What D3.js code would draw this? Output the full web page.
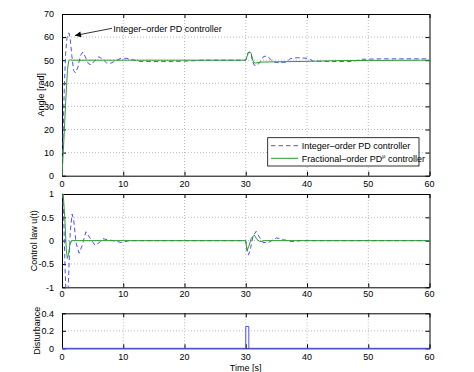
<!DOCTYPE html>
<html>
<head>
<meta charset="utf-8">
<script src="https://cdn.jsdelivr.net/npm/d3@7"></script>
<style>
  body { margin: 0; background: #fff; }
  svg text { font-family: "Liberation Sans", Arial, Helvetica, sans-serif; fill: #000; }
</style>
</head>
<body>
<svg id="chart" width="474" height="372"></svg>
<script>
// angle response, integer-order PD (blue dashed)
var angleIntT = [0, 0.2, 0.4, 0.6, 0.8, 1.0, 1.15, 1.35, 1.6, 1.9, 2.2, 2.6, 3.0, 3.4, 3.8, 4.3, 4.8, 5.4, 6.0, 6.6, 7.3, 8.0, 8.8, 9.6, 10.5, 11.5, 12.5, 15, 18, 21, 23, 30,
  30.2, 30.4, 30.7, 30.9, 31.1, 31.4, 31.9, 32.4, 32.9, 33.5, 34.0, 34.6, 35.5, 36.6, 37.3, 38.5, 40.2, 41, 44, 47.5, 49, 52, 56, 60];
var angleIntV = [0, 20, 40, 53, 59.5, 61.5, 61.8, 59, 52, 45.5, 44.5, 47, 52, 53.5, 51.5, 48.5, 48, 50, 51.5, 50.5, 48.8, 48.7, 49.8, 50.8, 50.8, 50.3, 49.5, 49.4, 49.4, 49.7, 50, 50,
  51.5, 53.3, 53.5, 52.5, 49.5, 47.8, 47.8, 49.5, 51.6, 51.8, 50.5, 49.2, 48.9, 49.2, 50.7, 51.1, 50.8, 49.6, 49.4, 49.5, 50.4, 50.6, 50.6, 50.6];

// angle response, fractional-order PD^mu (green)
var angleFracT = [0, 0.3, 0.6, 0.9, 1.1, 1.3, 1.6, 30, 30.2, 30.4, 30.7, 30.9, 31.1, 31.3, 31.6, 32.5, 35, 40, 45, 50, 60];
var angleFracV = [0, 15, 32, 46, 49.8, 50.2, 50, 50, 51.5, 53.3, 53.5, 52.8, 50.5, 49, 48.8, 49.2, 49.3, 49.5, 49.8, 49.9, 50];

// control law u(t)
var uIntT = [0, 0.15, 0.3, 0.5, 0.7, 0.9, 1.1, 1.35, 1.65, 1.9, 2.3, 2.8, 3.3, 3.9, 4.6, 5.4, 6.0, 6.7, 7.5, 8.3, 9.7, 11, 12.5,
  30, 30.15, 30.45, 30.8, 31.2, 31.7, 32.2, 32.8, 33.7, 35, 36.2, 37.5, 39, 60];
var uIntV = [1, 0.9, 0.4, -0.6, -1.3, -1.3, -0.7, 0.2, 0.57, 0.45, -0.05, -0.27, -0.1, 0.19, 0.05, -0.1, -0.05, 0.04, 0.02, 0, -0.04, 0, 0,
  0, -0.15, -0.31, -0.15, 0.1, 0.2, 0.08, -0.04, -0.04, 0.06, 0.02, -0.02, 0, 0];
var uFracT = [0, 0.2, 0.45, 0.7, 0.87, 1.05, 1.3, 1.6, 30, 30.1, 30.2, 30.5, 30.9, 31.4, 31.8, 32.3, 33, 60];
var uFracV = [1, 1, 0.5, -0.2, -0.38, -0.3, -0.08, 0, 0, -0.1, -0.22, -0.12, 0.05, 0.12, 0.03, -0.02, 0, 0];

// disturbance
var distT = [0, 30, 30, 30.5, 30.5, 60];
var distV = [0, 0, 0.25, 0.25, 0, 0];

var xTicks = [0, 10, 20, 30, 40, 50, 60];
var blue = '#5050f0', green = '#2f9a2f';

var svg = d3.select('#chart');
var x = d3.scaleLinear().domain([0, 60]).range([62, 429.5]);

function zip(t, v) { return t.map(function (d, i) { return [d, v[i]]; }); }

function drawPanel(id, yDomain, yRange, yTicks, yFmt, tickLabelY, label, labelX, series) {
  var y = d3.scaleLinear().domain(yDomain).range(yRange);
  var g = svg.append('g');

  svg.append('clipPath').attr('id', 'clip' + id)
    .append('rect').attr('x', x.range()[0]).attr('y', yRange[1] - 1)
    .attr('width', x.range()[1] - x.range()[0]).attr('height', yRange[0] - yRange[1] + 2);

  // grid
  g.selectAll('.gx').data(xTicks.slice(1, -1)).enter().append('line')
    .attr('x1', function (d) { return x(d); }).attr('x2', function (d) { return x(d); })
    .attr('y1', yRange[1]).attr('y2', yRange[0])
    .attr('stroke', '#aaa').attr('stroke-width', 0.8).attr('stroke-dasharray', '1,2');
  g.selectAll('.gy').data(yTicks.slice(1, -1)).enter().append('line')
    .attr('y1', function (d) { return y(d); }).attr('y2', function (d) { return y(d); })
    .attr('x1', x.range()[0]).attr('x2', x.range()[1])
    .attr('stroke', '#aaa').attr('stroke-width', 0.8).attr('stroke-dasharray', '1,2');

  // axes with inward ticks on all sides
  var bottom = g.append('g').attr('transform', 'translate(0,' + yRange[0] + ')')
    .call(d3.axisBottom(x).tickValues(xTicks).tickSizeInner(-4).tickSizeOuter(0).tickPadding(0));
  bottom.selectAll('text').remove();
  g.append('g').attr('transform', 'translate(0,' + yRange[1] + ')')
    .call(d3.axisTop(x).tickValues(xTicks).tickSizeInner(-4).tickSizeOuter(0).tickFormat(''));
  var left = g.append('g').attr('transform', 'translate(' + x.range()[0] + ',0)')
    .call(d3.axisLeft(y).tickValues(yTicks).tickSizeInner(-4).tickSizeOuter(0).tickFormat(yFmt).tickPadding(8));
  g.append('g').attr('transform', 'translate(' + x.range()[1] + ',0)')
    .call(d3.axisRight(y).tickValues(yTicks).tickSizeInner(-4).tickSizeOuter(0).tickFormat(''));
  g.selectAll('.domain').attr('stroke', '#000').attr('stroke-width', 1);
  g.selectAll('.tick line').attr('stroke', '#000');
  left.selectAll('text').attr('font-size', 9).attr('fill', '#000').attr('font-family', 'Liberation Sans, Arial, sans-serif');

  var line = d3.line().x(function (d) { return x(d[0]); }).y(function (d) { return y(d[1]); });
  series.forEach(function (s) {
    g.append('path').datum(zip(s.t, s.v))
      .attr('clip-path', 'url(#clip' + id + ')')
      .attr('fill', 'none').attr('stroke', s.color).attr('stroke-width', 1)
      .attr('stroke-dasharray', s.dash || null).attr('d', line);
  });

  g.selectAll('.xl').data(xTicks).enter().append('text')
    .attr('x', function (d) { return x(d); }).attr('y', tickLabelY)
    .attr('text-anchor', 'middle').attr('font-size', 9).text(function (d) { return d; });

  g.append('text').attr('transform', 'translate(' + labelX + ',' + (yRange[0] + yRange[1]) / 2 + ') rotate(-90)')
    .attr('text-anchor', 'middle').attr('font-size', 9).text(label);
  return y;
}

drawPanel('a', [0, 70], [175.7, 14], d3.range(0, 71, 10), d3.format('d'), 187, 'Angle [rad]', 44, [
  { t: angleIntT, v: angleIntV, color: blue, dash: '4.5,3' },
  { t: angleFracT, v: angleFracV, color: green }
]);
drawPanel('u', [-1, 1], [287.3, 194], [-1, -0.5, 0, 0.5, 1], function (d) { return d === 0 ? '0' : String(d); }, 297, 'Control law u(t)', 37, [
  { t: uIntT, v: uIntV, color: blue, dash: '4.5,3' },
  { t: uFracT, v: uFracV, color: green }
]);
drawPanel('d', [0, 0.4], [348.3, 313.3], [0, 0.2, 0.4], function (d) { return d === 0 ? '0' : String(d); }, 359.5, 'Disturbance', 40, [
  { t: distT, v: distV, color: blue }
]);

svg.append('text').attr('x', 245.7).attr('y', 370.5).attr('text-anchor', 'middle')
  .attr('font-size', 9).text('Time [s]');

// legend
var lg = svg.append('g');
lg.append('rect').attr('x', 267.7).attr('y', 137.7).attr('width', 151.3).attr('height', 28.3)
  .attr('fill', '#fff').attr('stroke', '#000').attr('stroke-width', 0.8);
lg.append('line').attr('x1', 271).attr('x2', 298).attr('y1', 145.7).attr('y2', 145.7)
  .attr('stroke', blue).attr('stroke-dasharray', '4.5,3');
lg.append('line').attr('x1', 271).attr('x2', 298).attr('y1', 158.3).attr('y2', 158.3)
  .attr('stroke', green);
lg.append('text').attr('x', 301.7).attr('y', 149).attr('font-size', 9).text('Integer\u2013order PD controller');
var t2 = lg.append('text').attr('x', 301.7).attr('y', 161.6).attr('font-size', 9);
t2.append('tspan').text('Fractional\u2013order PD');
t2.append('tspan').attr('font-size', 5.5).attr('dy', -3.5).text('\u03bc');
t2.append('tspan').attr('dy', 3.5).text(' controller');

// annotation arrow
svg.append('defs').append('marker').attr('id', 'arrow').attr('viewBox', '0 0 10 10')
  .attr('refX', 10).attr('refY', 5).attr('markerWidth', 9).attr('markerHeight', 6)
  .attr('orient', 'auto').attr('markerUnits', 'userSpaceOnUse')
  .append('path').attr('d', 'M0,0 L10,5 L0,10 Z').attr('fill', '#000');
svg.append('line').attr('x1', 112).attr('y1', 28.3).attr('x2', 75).attr('y2', 35.5)
  .attr('stroke', '#000').attr('stroke-width', 0.8).attr('marker-end', 'url(#arrow)');
svg.append('text').attr('x', 113.3).attr('y', 31.5).attr('font-size', 9).text('Integer\u2013order PD controller');
</script>
</body>
</html>
